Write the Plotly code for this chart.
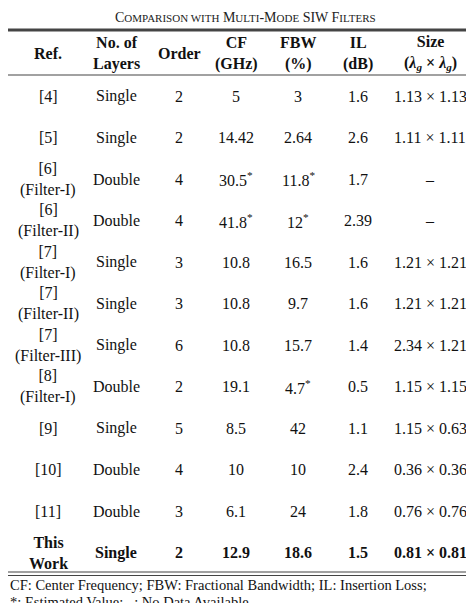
import plotly.graph_objects as go

headers = ["<b>Ref.</b>", "<b>No. of<br>Layers</b>", "<b>Order</b>", "<b>CF<br>(GHz)</b>",
           "<b>FBW<br>(%)</b>", "<b>IL<br>(dB)</b>", "<b>Size<br>(<i>λ<sub>g</sub></i> × <i>λ<sub>g</sub></i>)</b>"]
refs = ["[4]", "[5]", "[6]<br>(Filter-I)", "[6]<br>(Filter-II)", "[7]<br>(Filter-I)", "[7]<br>(Filter-II)",
        "[7]<br>(Filter-III)", "[8]<br>(Filter-I)", "[9]", "[10]", "[11]", "This<br>Work"]
layers = ["Single", "Single", "Double", "Double", "Single", "Single", "Single", "Double", "Single",
          "Double", "Double", "Single"]
order = ["2", "2", "4", "4", "3", "3", "6", "2", "5", "4", "3", "2"]
cf = ["5", "14.42", "30.5<sup>*</sup>", "41.8<sup>*</sup>", "10.8", "10.8", "10.8", "19.1", "8.5", "10", "6.1", "12.9"]
fbw = ["3", "2.64", "11.8<sup>*</sup>", "12<sup>*</sup>", "16.5", "9.7", "15.7", "4.7<sup>*</sup>", "42", "10", "24", "18.6"]
il = ["1.6", "2.6", "1.7", "2.39", "1.6", "1.6", "1.4", "0.5", "1.1", "2.4", "1.8", "1.5"]
size = ["1.13 × 1.13", "1.11 × 1.11", "–", "–", "1.21 × 1.21", "1.21 × 1.21", "2.34 × 1.21", "1.15 × 1.15",
        "1.15 × 0.63", "0.36 × 0.36", "0.76 × 0.76", "0.81 × 0.81"]
title = "C<span style='font-size:11px'>OMPARISON WITH</span> M<span style='font-size:11px'>ULTI</span>-M<span style='font-size:11px'>ODE</span> SIW F<span style='font-size:11px'>ILTERS</span>"
notes = ["CF: Center Frequency; FBW: Fractional Bandwidth; IL: Insertion Loss;",
         "*: Estimated Value; –: No Data Available."]

col_x = [40, 108, 171, 228, 290, 350, 422]
font = dict(family="Liberation Serif", size=16, color="#111")

fig = go.Figure()
fig.add_trace(go.Scatter(x=[0, 474], y=[0, 603], mode="markers", marker=dict(opacity=0), hoverinfo="skip"))

ann = []
ann.append(dict(x=237, y=9, text=title, font=dict(family="Liberation Serif", size=14, color="#222")))
for x, h in zip(col_x, headers):
    ann.append(dict(x=x, y=45, text=h, font=font))
columns = [refs, layers, order, cf, fbw, il, size]
for i in range(len(refs)):
    y = 88 + i * 41.5
    bold = i == len(refs) - 1
    for x, col in zip(col_x, columns):
        t = col[i]
        ann.append(dict(x=x, y=y, text=f"<b>{t}</b>" if bold else t, font=font))
for j, n in enumerate(notes):
    ann.append(dict(x=0, y=577 + j * 17, text=n, xanchor="left",
                    font=dict(family="Liberation Serif", size=14.5, color="#111")))
for a in ann:
    a.update(xref="x", yref="y", showarrow=False)
    a.setdefault("xanchor", "center")

shapes = [
    dict(type="line", x0=0, x1=474, y0=22, y1=22, line=dict(color="#444", width=3)),
    dict(type="line", x0=0, x1=474, y0=67, y1=67, line=dict(color="#444", width=1.2)),
    dict(type="line", x0=0, x1=474, y0=564, y1=564, line=dict(color="#444", width=1.2)),
    dict(type="line", x0=0, x1=474, y0=567.5, y1=567.5, line=dict(color="#444", width=1.2)),
]
for s in shapes:
    s.update(xref="x", yref="y")

fig.update_layout(width=474, height=603, margin=dict(l=0, r=0, t=0, b=0), plot_bgcolor="white",
                  paper_bgcolor="white", showlegend=False, annotations=ann, shapes=shapes,
                  xaxis=dict(range=[0, 474], visible=False, fixedrange=True),
                  yaxis=dict(range=[603, 0], visible=False, fixedrange=True))
fig.write_html("out.html")
